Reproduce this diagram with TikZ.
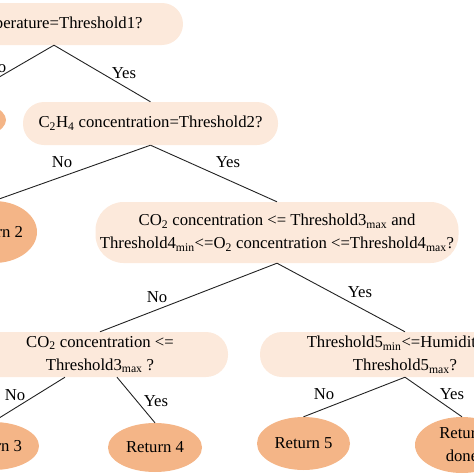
\documentclass[tikz,border=0pt]{standalone}
\usepackage{fontspec}
\usetikzlibrary{shapes.geometric}
\setmainfont{Liberation Serif}
\definecolor{pillfill}{HTML}{FCE9DB}
\definecolor{ovalfill}{HTML}{F4B587}
\definecolor{linecol}{HTML}{222222}
\newcommand{\sbs}[1]{\textsubscript{#1}}
\begin{document}
\begin{tikzpicture}[x=1pt,y=-1pt,
  every node/.style={font=\fontsize{16.7}{23}\selectfont, text=black, inner sep=0pt},
  pill/.style={draw=none, fill=pillfill, rectangle, rounded corners=21pt, align=center},
  oval/.style={draw=none, fill=ovalfill, ellipse, align=center},
  conn/.style={draw=linecol, line width=0.9pt},
  lbl/.style={fill=none}]
\useasboundingbox (0,0) rectangle (474,474);
\clip (0,0) rectangle (474,474);
% decision nodes
\node[pill, minimum width=258pt, minimum height=42pt] (top) at (54,24) {Temperature=Threshold1?};
\node[pill, minimum width=255pt, minimum height=43pt] (c2h4) at (150.5,123.5) {C\sbs{2}H\sbs{4} concentration=Threshold2?};
\node[pill, minimum width=363pt, minimum height=61pt, rounded corners=28pt] (big) at (277,232.5)
  {CO\sbs{2} concentration <= Threshold3\sbs{max} and\\Threshold4\sbs{min}<=O\sbs{2} concentration <=Threshold4\sbs{max}?};
\node[pill, minimum width=256pt, minimum height=45pt, rounded corners=22pt] (co2) at (100,354.5)
  {CO\sbs{2} concentration <=\\Threshold3\sbs{max} ?};
\node[pill, minimum width=290pt, minimum height=45pt, rounded corners=22pt] (th5) at (405,354.5)
  {Threshold5\sbs{min}<=Humidity<=\\Threshold5\sbs{max}?};
% outcome ellipses
\node[oval, minimum width=92pt, minimum height=40pt] (r1) at (-40,120) {Return 1};
\node[oval, minimum width=86pt, minimum height=62pt] (r2) at (-6,232) {Return 2};
\node[oval, minimum width=92pt, minimum height=48pt] (r3) at (-7,446) {Return 3};
\node[oval, minimum width=94pt, minimum height=49pt] (r4) at (155,447.5) {Return 4};
\node[oval, minimum width=93pt, minimum height=53pt] (r5) at (303.5,443.5) {Return 5};
\node[oval, minimum width=94pt, minimum height=56pt] (r6) at (462,445) {Return\\done};
% connectors
\draw[conn] (top.south) -- (r1.north);
\draw[conn] (top.south) -- (c2h4.north);
\draw[conn] (c2h4.south) -- (r2.north);
\draw[conn] (c2h4.south) -- (big.north);
\draw[conn] (big.south) -- (co2.north);
\draw[conn] (big.south) -- (th5.north);
\draw[conn] ([xshift=-35pt]co2.south) -- (r3.north);
\draw[conn] ([xshift=17pt]co2.south) -- (r4.north);
\draw[conn] (th5.south) -- (r5.north);
\draw[conn] (th5.south) -- (r6.north);
% labels
\node[lbl] (l1) at (-4,67) {No};
\node[lbl] (l2) at (124,73) {Yes};
\node[lbl] (l3) at (62,162) {No};
\node[lbl] (l4) at (228,162) {Yes};
\node[lbl] (l5) at (157,297) {No};
\node[lbl] (l6) at (360,292) {Yes};
\node[lbl] (l7) at (15,395) {No};
\node[lbl] (l8) at (156,401) {Yes};
\node[lbl] (l9) at (324,394) {No};
\node[lbl] (l10) at (452,394) {Yes};
\end{tikzpicture}
\end{document}
